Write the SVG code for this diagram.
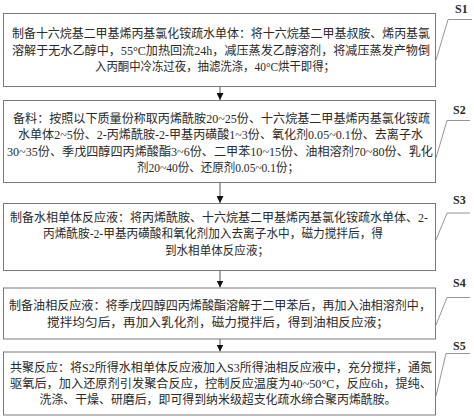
<svg xmlns="http://www.w3.org/2000/svg" width="474" height="420" viewBox="0 0 474 420">
<style>
.box{fill:#fff;stroke:#7a7a7a;stroke-width:1}
.t{font-family:"Liberation Serif","Noto Sans CJK SC",serif;font-size:12px;fill:#2a2a2a;text-anchor:middle}
.lbl{font-family:"Liberation Serif","Noto Sans CJK SC",serif;font-size:12px;fill:#2a2a2a;font-weight:bold}
.lead{fill:none;stroke:#7a7a7a;stroke-width:0.8}
.conn{stroke:#555;stroke-width:1;fill:none}
</style>
<defs>
<marker id="ah" viewBox="0 0 10 10" refX="10" refY="5" markerWidth="7" markerHeight="7" markerUnits="userSpaceOnUse" orient="auto"><path d="M0,0 L10,5 L0,10 Z" fill="#111"/></marker>
</defs>
<rect width="474" height="420" fill="#fff"/>
<g id="connectors">
<line class="conn" x1="220" y1="86.5" x2="220" y2="100" marker-end="url(#ah)"/>
<line class="conn" x1="220" y1="182.5" x2="220" y2="203" marker-end="url(#ah)"/>
<line class="conn" x1="220" y1="270.5" x2="220" y2="287.5" marker-end="url(#ah)"/>
<line class="conn" x1="220" y1="339" x2="220" y2="351.5" marker-end="url(#ah)"/>
</g>
<g id="S1">
<rect class="box" x="3.5" y="13.5" width="432" height="73"/>
<text class="t" x="221" y="37.5" textLength="418" lengthAdjust="spacingAndGlyphs">制备十六烷基二甲基烯丙基氯化铵疏水单体：将十六烷基二甲基叔胺、烯丙基氯</text>
<text class="t" x="221" y="54.5" textLength="418" lengthAdjust="spacingAndGlyphs">溶解于无水乙醇中，55°C加热回流24h，减压蒸发乙醇溶剂，将减压蒸发产物倒</text>
<text class="t" x="215" y="70.5" textLength="240" lengthAdjust="spacingAndGlyphs">入丙酮中冷冻过夜，抽滤洗涤，40°C烘干即得；</text>
<polyline class="lead" points="436,60 448,19.5 472,19.5"/>
<text class="lbl" x="455" y="12.5">S1</text>
</g>
<g id="S2">
<rect class="box" x="3.5" y="100.5" width="432" height="82"/>
<text class="t" x="221.5" y="122.5" textLength="417" lengthAdjust="spacingAndGlyphs">备料：按照以下质量份称取丙烯酰胺20~25份、十六烷基二甲基烯丙基氯化铵疏</text>
<text class="t" x="220.5" y="139" textLength="405" lengthAdjust="spacingAndGlyphs">水单体2~5份、2-丙烯酰胺-2-甲基丙磺酸1~3份、氧化剂0.05~0.1份、去离子水</text>
<text class="t" x="220" y="155.5" textLength="426" lengthAdjust="spacingAndGlyphs">30~35份、季戊四醇四丙烯酸酯3~6份、二甲苯10~15份、油相溶剂70~80份、乳化</text>
<text class="t" x="218" y="171.5" textLength="162" lengthAdjust="spacingAndGlyphs">剂20~40份、还原剂0.05~0.1份；</text>
<polyline class="lead" points="436,158 447,120.5 470,120.5"/>
<text class="lbl" x="453" y="114">S2</text>
</g>
<g id="S3">
<rect class="box" x="3.5" y="203.5" width="432" height="67"/>
<text class="t" x="219" y="221.5" textLength="418" lengthAdjust="spacingAndGlyphs">制备水相单体反应液：将丙烯酰胺、十六烷基二甲基烯丙基氯化铵疏水单体、2-</text>
<text class="t" x="213" y="238" textLength="340" lengthAdjust="spacingAndGlyphs">丙烯酰胺-2-甲基丙磺酸和氧化剂加入去离子水中，磁力搅拌后，得</text>
<text class="t" x="217" y="254.5" textLength="104" lengthAdjust="spacingAndGlyphs">到水相单体反应液；</text>
<polyline class="lead" points="436,240 447,213 470,213"/>
<text class="lbl" x="453" y="204">S3</text>
</g>
<g id="S4">
<rect class="box" x="3.5" y="288" width="432" height="51"/>
<text class="t" x="220" y="309.5" textLength="422" lengthAdjust="spacingAndGlyphs">制备油相反应液：将季戊四醇四丙烯酸酯溶解于二甲苯后，再加入油相溶剂中，</text>
<text class="t" x="218" y="326.5" textLength="342" lengthAdjust="spacingAndGlyphs">搅拌均匀后，再加入乳化剂，磁力搅拌后，得到油相反应液；</text>
<polyline class="lead" points="436,325 447,297.5 470,297.5"/>
<text class="lbl" x="453" y="287">S4</text>
</g>
<g id="S5">
<rect class="box" x="3.5" y="352" width="432" height="63"/>
<text class="t" x="221" y="371.5" textLength="422" lengthAdjust="spacingAndGlyphs">共聚反应：将S2所得水相单体反应液加入S3所得油相反应液中，充分搅拌，通氮</text>
<text class="t" x="221" y="387.5" textLength="422" lengthAdjust="spacingAndGlyphs">驱氧后，加入还原剂引发聚合反应，控制反应温度为40~50°C，反应6h，提纯、</text>
<text class="t" x="218" y="404" textLength="357" lengthAdjust="spacingAndGlyphs">洗涤、干燥、研磨后，即可得到纳米级超支化疏水缔合聚丙烯酰胺。</text>
<polyline class="lead" points="436,396 446,353.5 470,353.5"/>
<text class="lbl" x="453" y="350">S5</text>
</g>
</svg>
